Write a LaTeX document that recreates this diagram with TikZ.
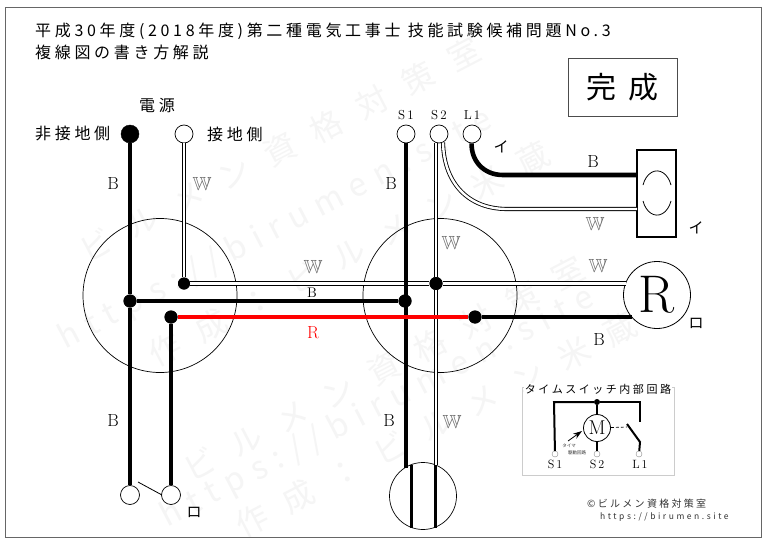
\documentclass[tikz,border=0pt]{standalone}
\usepackage{amssymb}
\usepackage{fontspec}
\usetikzlibrary{arrows.meta}
\newfontfamily\jp{Noto Sans CJK JP}
\newfontfamily\jpt[LetterSpace=23]{Noto Sans CJK JP}
\newfontfamily\jpw[LetterSpace=30]{Noto Sans CJK JP}
\newfontfamily\jpm[LetterSpace=62]{Noto Sans CJK JP}
\newcommand{\wlab}{$\mathbb{W}$}
\tikzset{
  term/.style={circle,draw,fill=white,line width=.7pt,minimum size=18pt,inner sep=0pt},
  jdot/.style={circle,fill=black,minimum size=#1,inner sep=0pt},
  blk/.style={line width=4.6pt,draw=black},
  red wire/.style={line width=4.6pt,draw=red},
  wht/.style={draw=black,double=white,double distance=2.4pt,line width=.85pt},
  jbox/.style={circle,draw,line width=.7pt,inner sep=0pt},
  lab/.style={font=\fontsize{17.5}{17.5}\selectfont,inner sep=0pt},
  wl/.style={font=\fontsize{19}{19}\selectfont,inner sep=0pt,text=black!60},
  jl/.style={font=\jpt\fontsize{16}{16}\selectfont,inner sep=0pt},
  kana/.style={font=\jp\fontsize{15}{15}\selectfont,inner sep=0pt},
  wmark/.style={font=\jpm\fontsize{32}{32}\selectfont,text=black!4,inner sep=0pt,rotate=27.5,anchor=west},
  wmarku/.style={font=\jpw\fontsize{32}{32}\selectfont,text=black!4,inner sep=0pt,rotate=27.5,anchor=west},
  smalllab/.style={font=\fontsize{13}{13}\selectfont,inner sep=0pt},
  minilab/.style={font=\fontsize{12}{12}\selectfont,inner sep=0pt},
  mini/.style={circle,draw=black!45,fill=white,line width=.4pt,minimum size=6pt,inner sep=0pt},
  miniwire/.style={line width=2pt,draw=black}
}
\begin{document}
\begin{tikzpicture}[x=1pt,y=-1pt]
\useasboundingbox (0,0) rectangle (768,543);
\fill[white] (0,0) rectangle (768,543);
% watermark
\node[wmark] (m1) at (82,253) {ビルメン資格対策室};
\node[wmarku] (m2) at (61,342) {https://birumen.site};
\node[wmark] (m3) at (151,357) {作成：ビルメン米蔵};
\node[wmark] (m4) at (186,472) {ビルメン資格対策室};
\node[wmarku] (m5) at (163,520) {https://birumen.site};
\node[wmark] (m6) at (238,528) {作成：ビルメン米蔵};
% frame
\node[draw=black!60,line width=.8pt,minimum width=756pt,minimum height=530pt,inner sep=0pt] (frame) at (383,272) {};
% title
\node[jl,anchor=west] (t1) at (35,31) {平成30年度(2018年度)第二種電気工事士 技能試験候補問題No.3};
\node[jl,anchor=west] (t2) at (35,52) {複線図の書き方解説};
\node[draw=black!70,fill=white,line width=.7pt,minimum width=109pt,minimum height=58pt,font=\jp\fontsize{30}{30}\selectfont] (done) at (622.5,87) {完\hspace{.4em}成};
\node[jl] (power) at (157,105) {電源};
\node[jl,anchor=west] (nong) at (35,134) {非接地側};
\node[jl,anchor=west] (gnd) at (207,134) {接地側};
% junction boxes
\node[jbox,minimum size=154pt] (jb1) at (160,295.5) {};
\node[jbox,minimum size=154pt] (jb2) at (440,295.5) {};
% terminals and points
\node[circle,fill=black,draw,minimum size=18pt,inner sep=0pt] (hot) at (130,134) {};
\node[term] (neu) at (184,134) {};
\node[term] (s1) at (406,134) {};
\node[term] (s2) at (439,134) {};
\node[term] (l1) at (472,134) {};
\node[term,minimum size=19pt] (swa) at (130,495) {};
\node[term,minimum size=19pt] (swb) at (171,495) {};
\node[jdot=13pt] (j1) at (130,301) {};
\node[jdot=12pt] (j2) at (184,283.5) {};
\node[jdot=13pt] (j3) at (171,317) {};
\node[jdot=13pt] (j4) at (405,301) {};
\node[jdot=13pt] (j5) at (436,283.5) {};
\node[jdot=13pt] (j6) at (475,317) {};
\node[circle,draw,fill=white,line width=.8pt,minimum size=67pt,inner sep=0pt,font=\fontsize{53}{53}\selectfont] (rl) at (657,295) {R};
\node[draw,fill=white,line width=1.3pt,minimum width=39pt,minimum height=87pt,inner sep=0pt] (lamp) at (656.5,193.5) {};
\node[jbox,fill=white,minimum size=67pt] (tt) at (423,496) {};
\coordinate (tt1t) at (411,465); \coordinate (tt1b) at (411,528);
\coordinate (tt2t) at (435,465); \coordinate (tt2b) at (435,528);
\coordinate (s1e) at (406,468);
\coordinate (s2e) at (436,465);
\coordinate (s2t) at (436,142.5);
\coordinate (s2c) at (443,142.5);
\coordinate (rle) at (626,283.5);
\coordinate (rlb) at (632,317);
\coordinate (lampw) at (637,209);
\coordinate (lampb) at (637,175);
\coordinate (swl) at (138,482);
\coordinate (swr) at (162,495);
% wires
\draw[wht] (neu) -- (j2);
\draw[wht] (j2) -- (j5);
\draw[wht] (j5) -- (rle);
\draw[wht] (s2t) -- (j5);
\draw[wht] (j5) -- (s2e);
\draw[wht] (s2c) .. controls (444,185) and (470,209) .. (507,209) -- (lampw);
\draw[blk] (hot) -- (j1);
\draw[blk] (j1) -- (swa);
\draw[blk] (j1) -- (j4);
\draw[blk] (s1) -- (s1e);
\draw[blk] (j3) -- (swb);
\draw[blk] (l1) .. controls (471,160) and (483,175) .. (503,175) -- (lampb);
\draw[blk] (j6) -- (rlb);
\draw[red wire] (j3) -- (j6);
\draw[line width=3pt] (tt1t) -- (tt1b);
\draw[line width=3pt] (tt2t) -- (tt2b);
\draw[line width=.8pt] (swl) -- (swr);
% redraw dots above wires
\node[jdot=13pt] at (j1) {};
\node[jdot=12pt] at (j2) {};
\node[jdot=13pt] at (j3) {};
\node[jdot=13pt] at (j4) {};
\node[jdot=13pt] at (j5) {};
\node[jdot=13pt] at (j6) {};
% lampholder arcs
\draw[line width=.8pt] (671,185) arc[start angle=-21,end angle=-159,x radius=15,y radius=22];
\draw[line width=.8pt] (643,201) arc[start angle=159,end angle=21,x radius=15,y radius=22];
% labels
\node[lab] (b1) at (113,184) {B};
\node[wl] (w1) at (202,184) {\wlab};
\node[lab] (b2) at (391,184) {B};
\node[wl] (w2) at (451,243) {\wlab};
\node[wl] (w3) at (313,267) {\wlab};
\node[lab,font=\fontsize{14}{14}\selectfont] (b3) at (312,293) {B};
\node[lab,text=red] (r1) at (313,333) {R};
\node[lab] (b4) at (593,162) {B};
\node[wl] (w4) at (595,224) {\wlab};
\node[wl] (w5) at (598,266) {\wlab};
\node[lab] (b5) at (599,340) {B};
\node[lab] (b6) at (113,421) {B};
\node[lab] (b7) at (389,421) {B};
\node[wl] (w6) at (452,422) {\wlab};
\node[kana] (i1) at (501,147) {イ};
\node[kana] (i2) at (696,228) {イ};
\node[kana] (ro1) at (696,323) {ロ};
\node[kana] (ro2) at (194,512) {ロ};
\node[smalllab] (ls1) at (406,115) {S\,1};
\node[smalllab] (ls2) at (439,115) {S\,2};
\node[smalllab] (ll1) at (472,115) {L\,1};
% timer inset
\node[draw=black!20,line width=.8pt,minimum width=152pt,minimum height=88pt,inner sep=0pt] (inset) at (598,431) {};
\node[fill=white,inner sep=1pt,font=\jpt\fontsize{11}{11}\selectfont] (ins) at (598,389) {タイムスイッチ内部回路};
\node[mini] (is1) at (555,454) {};
\node[mini] (is2) at (597,454) {};
\node[mini] (il1) at (639,454) {};
\node[circle,draw,fill=white,line width=.8pt,minimum size=27pt,inner sep=0pt,font=\fontsize{20}{20}\selectfont] (mot) at (597,428) {M};
\node[jdot=6pt] (itop) at (597,402) {};
\coordinate (icr) at (640,402);
\coordinate (icl) at (554,402);
\coordinate (ire) at (640,422);
\coordinate (isa) at (627,424);
\coordinate (isb) at (640,442);
\coordinate (ida) at (627,427);
\coordinate (iaa) at (568,441);
\coordinate (iab) at (582,431);
\draw[miniwire] (is1) -- (icl) -- (itop);
\draw[miniwire] (itop) -- (icr) -- (ire);
\draw[miniwire] (itop) -- (mot);
\draw[miniwire] (mot) -- (is2);
\draw[miniwire] (isa) -- (isb) -- (il1);
\draw[line width=.7pt,dash pattern=on 3pt off 2pt] (mot) -- (ida);
\draw[-{Stealth[length=9pt,width=6pt]},line width=.8pt] (iaa) -- (iab);
\node[inner sep=0pt,font=\jp\fontsize{4.5}{4.5}\selectfont,text=black!80] (it1) at (569,446) {タイマ};
\node[inner sep=0pt,font=\jp\fontsize{4.5}{4.5}\selectfont,text=black!80] (it2) at (577,453) {駆動回路};
\node[minilab] (is1l) at (555,464) {S\,1};
\node[minilab] (is2l) at (597,464) {S\,2};
\node[minilab] (il1l) at (640,464) {L\,1};
% credit
\node[inner sep=0pt,anchor=west,font=\jpt\fontsize{10}{10}\selectfont,text=black!80] (c1) at (587,504) {©ビルメン資格対策室};
\node[inner sep=0pt,anchor=west,font=\jpw\fontsize{8.5}{8.5}\selectfont,text=black!80] (c2) at (600,517) {https://birumen.site};
\end{tikzpicture}
\end{document}
